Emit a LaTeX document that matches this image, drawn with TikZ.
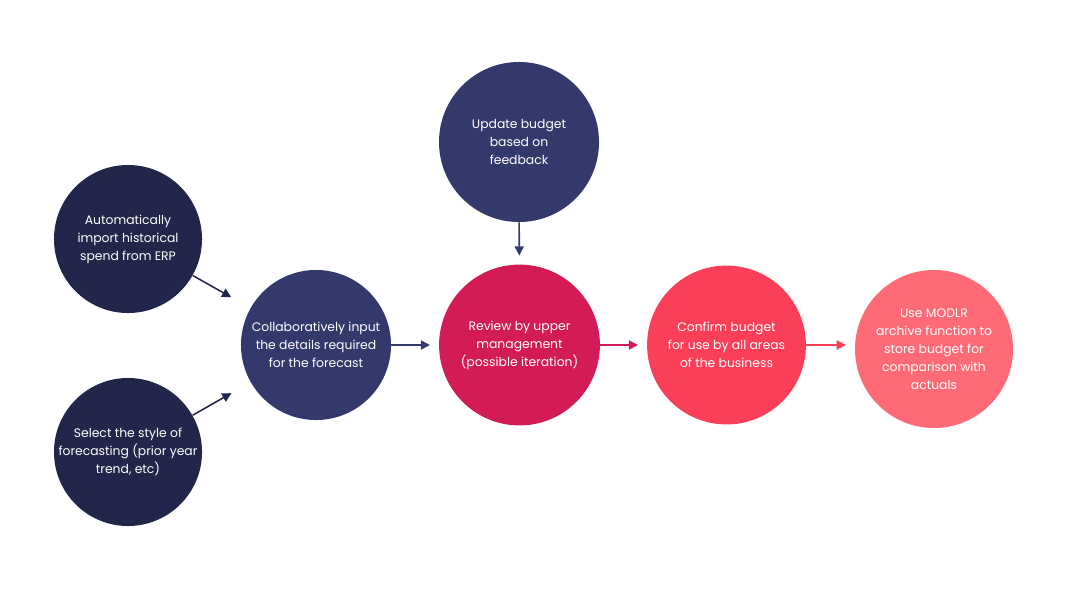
\documentclass[tikz,border=0pt]{standalone}
\usepackage{fontspec}
\setmainfont{Poppins}
\usetikzlibrary{arrows.meta}

\definecolor{navydark}{HTML}{22264A}
\definecolor{navy}{HTML}{333A6B}
\definecolor{crimson}{HTML}{D31C55}
\definecolor{redstep}{HTML}{FB3F58}
\definecolor{pinkstep}{HTML}{FE6B77}

\tikzset{
	stepcircle/.style={circle, fill=#1, inner sep=0pt},
	steptext/.style={text=white, align=center, inner sep=0pt,
		font=\fontsize{8.8}{12.8}\selectfont},
	flow/.style={draw=#1, line width=1.1pt, shorten >=0.22cm,
		-{Triangle[length=2.3mm,width=2.3mm]}}
}

\begin{document}
\begin{tikzpicture}[x=0.025cm, y=-0.025cm]
	\useasboundingbox (0,0) rectangle (1065,594);
	
	% input steps
	\node[stepcircle=navydark, minimum size=3.7cm,
		label={[steptext]center:Automatically\\import historical\\spend from ERP}]
		(import) at (128,239) {};
	\node[stepcircle=navydark, minimum size=3.7cm,
		label={[steptext]center:Select the style of\\forecasting (prior year\\trend, etc)}]
		(style) at (128,452) {};
	\node[stepcircle=navy, minimum size=3.75cm,
		label={[steptext]center:Collaboratively input\\the details required\\for the forecast}]
		(input) at (316,345) {};
	
	% review loop
	\node[stepcircle=navy, minimum size=4cm,
		label={[steptext]center:Update budget\\based on\\feedback}]
		(update) at (519,142) {};
	\node[stepcircle=crimson, minimum size=4.02cm,
		label={[steptext]center:Review by upper\\management\\(possible iteration)}]
		(review) at (519.5,345) {};
	
	% final steps
	\node[stepcircle=redstep, minimum size=3.97cm,
		label={[steptext]center:Confirm budget\\for use by all areas\\of the business}]
		(confirm) at (726.5,345) {};
	\node[stepcircle=pinkstep, minimum size=3.95cm,
		label={[steptext]center:Use MODLR\\archive function to\\store budget for\\comparison with\\actuals}]
		(archive) at (934,349) {};
	
	% connectors
	\draw[flow=navydark, shorten >=0.55cm] (import) -- (input);
	\draw[flow=navydark, shorten >=0.55cm] (style) -- (input);
	\draw[flow=navy] (input) -- (review);
	\draw[flow=navy] (update) -- (review);
	\draw[flow=crimson] (review) -- (confirm);
	\draw[flow=redstep] (confirm) -- (archive.west |- confirm);
\end{tikzpicture}
\end{document}
